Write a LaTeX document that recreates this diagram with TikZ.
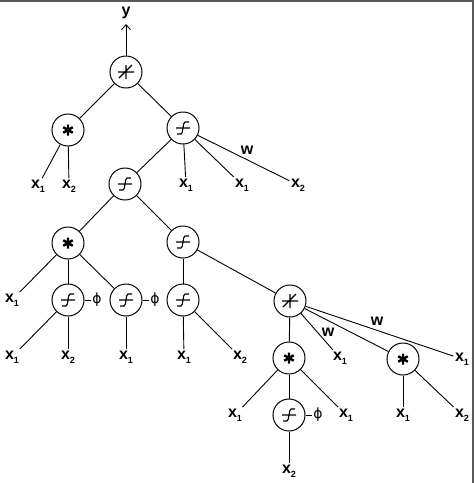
\documentclass[tikz,border=0pt]{standalone}
\usepackage{fontspec}
\setmainfont{Liberation Sans}
\newfontfamily\phifont{DejaVu Sans}
\usetikzlibrary{arrows.meta}
\newcommand\xs[1]{x\raisebox{-4pt}{\fontsize{9}{9}\selectfont #1}}
\tikzset{
 op/.style={circle, draw, minimum size=32pt, inner sep=0pt, line width=1pt, fill=white},
 sumop/.style={op, path picture={\draw[line width=1.1pt, shift={(path picture bounding box.center)}] (-8pt,0pt) -- (8pt,0pt) (0pt,-7pt) -- (0pt,7pt) (-7pt,-6pt) -- (6pt,7pt);}},
 sigop/.style={op, path picture={\draw[line width=1.1pt, shift={(path picture bounding box.center)}] (-7pt,0pt) -- (7pt,0pt) (-6pt,-6pt) -- (-2pt,-6pt) .. controls (0.5pt,-6pt) and (-0.5pt,6pt) .. (2pt,6pt) -- (6pt,6pt);}},
 mulop/.style={op, path picture={\draw[line width=2.4pt, shift={(path picture bounding box.center)}] (90:5.5pt) -- (270:5.5pt) (30:5.5pt) -- (210:5.5pt) (150:5.5pt) -- (330:5.5pt);}},
 lab/.style={font=\fontsize{16}{16}\selectfont\bfseries, inner sep=1.5pt},
 phil/.style={font=\fontsize{14}{14}\selectfont\phifont, inner sep=1.5pt},
 edge/.style={line width=0.9pt},
 framebar/.style={fill=black!65},
}
\begin{document}
\begin{tikzpicture}[x=1pt,y=-1pt]
\useasboundingbox (0,0) rectangle (474,483);
\fill[framebar] (0,0) rectangle (474,2.2);
\fill[framebar] (471.7,0) rectangle (474,483);
% operator nodes
\node[sumop] (R) at (126,72) {};
\node[mulop] (M1) at (68,130) {};
\node[sigop] (A) at (183,128) {};
\node[sigop] (B) at (125,184) {};
\node[mulop] (M2) at (68,243) {};
\node[sigop] (D) at (183,242) {};
\node[sigop] (E) at (68,300) {};
\node[sigop] (F) at (126,300) {};
\node[sigop] (G) at (183,300) {};
\node[sumop] (H) at (290,301) {};
\node[mulop] (I) at (289,358) {};
\node[mulop] (J) at (403,359) {};
\node[sigop] (K) at (289,415) {};
% labels
\node[lab] (ylab) at (126,13) {y};
\coordinate (ytip) at (126,24);
\node[lab] (a1) at (38,186) {\xs1};
\node[lab] (a2) at (69,186) {\xs2};
\node[lab] (b1) at (186,185) {\xs1};
\node[lab] (b2) at (242,185) {\xs1};
\node[lab] (b3) at (298,185) {\xs2};
\node[lab] (w1) at (247,150) {w};
\node[lab] (c1) at (12,300) {\xs1};
\node[phil] (p1) at (97,300) {ϕ};
\node[phil] (p2) at (155,300) {ϕ};
\node[lab] (d1) at (12,357) {\xs1};
\node[lab] (d2) at (68,357) {\xs2};
\node[lab] (d3) at (126,357) {\xs1};
\node[lab] (d4) at (184,357) {\xs1};
\node[lab] (d5) at (240,357) {\xs2};
\node[lab] (e1) at (340,358) {\xs1};
\node[lab] (w2) at (328,332) {w};
\node[lab] (e2) at (462,359) {\xs1};
\node[lab] (w3) at (377,321) {w};
\node[lab] (f1) at (235,415) {\xs1};
\node[phil] (p3) at (318,415) {ϕ};
\node[lab] (f2) at (346,415) {\xs1};
\node[lab] (f3) at (403,415) {\xs1};
\node[lab] (f4) at (462,415) {\xs2};
\node[lab] (g1) at (289,471) {\xs2};
% connectors
\draw[edge, -{Straight Barb[length=5pt,width=9pt]}] (R) -- (ytip);
\draw[edge] (R) -- (M1);
\draw[edge] (R) -- (A);
\draw[edge] (M1) -- (a1);
\draw[edge] (M1) -- (a2);
\draw[edge] (A) -- (B);
\draw[edge] (A) -- (b1);
\draw[edge] (A) -- (b2);
\draw[edge] (A) -- (b3);
\draw[edge] (B) -- (M2);
\draw[edge] (B) -- (D);
\draw[edge] (M2) -- (c1);
\draw[edge] (M2) -- (E);
\draw[edge] (M2) -- (F);
\draw[edge] (E) -- (p1);
\draw[edge] (F) -- (p2);
\draw[edge] (D) -- (G);
\draw[edge] (D) -- (H);
\draw[edge] (E) -- (d1);
\draw[edge] (E) -- (d2);
\draw[edge] (F) -- (d3);
\draw[edge] (G) -- (d4);
\draw[edge] (G) -- (d5);
\draw[edge] (H) -- (I);
\draw[edge] (H) -- (e1);
\draw[edge] (H) -- (J);
\draw[edge] (H) -- (e2);
\draw[edge] (I) -- (f1);
\draw[edge] (I) -- (K);
\draw[edge] (I) -- (f2);
\draw[edge] (K) -- (p3);
\draw[edge] (K) -- (g1);
\draw[edge] (J) -- (f3);
\draw[edge] (J) -- (f4);
\end{tikzpicture}
\end{document}
